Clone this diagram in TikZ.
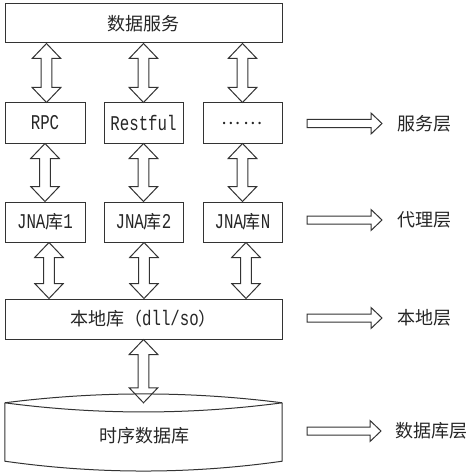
\documentclass[tikz,border=0pt]{standalone}
\usepackage{fontspec}
\setmainfont{Liberation Mono}[FakeStretch=0.75]
\newfontfamily\cjk{Noto Sans CJK SC}
\usetikzlibrary{calc}
\newcommand\zh[1]{{\cjk\fontsize{18}{20}\selectfont #1}}
\newcommand\dblarrowv[2]{%
  \draw[arrowsty] let \p1=#1, \p2=#2 in
  (\x1,\y1) -- (\x1+14.3pt,\y1-15pt) -- (\x1+5.3pt,\y1-15pt) -- (\x1+5.3pt,\y2+15pt)
  -- (\x1+14.3pt,\y2+15pt) -- (\x1,\y2) -- (\x1-14.3pt,\y2+15pt) -- (\x1-5.3pt,\y2+15pt)
  -- (\x1-5.3pt,\y1-15pt) -- (\x1-14.3pt,\y1-15pt) -- cycle;}
\newcommand\hsarrow[2]{%
  \draw[arrowsty] let \p1=#1, \p2=#2 in
  (\x1,\y1+4pt) -- (\x2-11pt,\y1+4pt) -- (\x2-11pt,\y1+10.5pt) -- (\x2,\y1)
  -- (\x2-11pt,\y1-10.5pt) -- (\x2-11pt,\y1-4pt) -- (\x1,\y1-4pt) -- cycle;}
\begin{document}
\begin{tikzpicture}[x=1pt,y=-1pt,
  box/.style={draw=black!80,line width=1pt,inner sep=0pt,text=black!85,
    font=\fontsize{21}{24}\selectfont},
  arrowsty/.style={draw=black!80,line width=1pt,line join=miter},
  lab/.style={anchor=west,inner sep=0pt,text=black!85}]
\useasboundingbox (0,0) rectangle (474,476);
\fill[white] (0,0) rectangle (474,476);
% boxes
\node[box,minimum width=277pt,minimum height=39pt] (top) at (143.5,23.5) {\zh{数据服务}};
\node[box,minimum width=80pt,minimum height=40pt] (rpc) at (45,123) {RPC};
\node[box,minimum width=79pt,minimum height=40pt] (rest) at (143.5,123) {Restful};
\node[box,minimum width=79pt,minimum height=40pt] (dots) at (242.5,123) {\zh{…}\hspace{3pt}\zh{…}};
\node[box,minimum width=80pt,minimum height=40pt] (jna1) at (45,222) {JNA\zh{库}1};
\node[box,minimum width=79pt,minimum height=40pt] (jna2) at (143.5,222) {JNA\zh{库}2};
\node[box,minimum width=79pt,minimum height=40pt] (jnan) at (242.5,222) {JNA\zh{库}N};
\node[box,minimum width=277pt,minimum height=40pt] (local) at (143.5,319) {\zh{本地库（}dll/so\zh{）}};
% database cylinder
\node[inner sep=0pt,minimum width=277pt,minimum height=58pt,text=black!85] (db) at (143.5,432) {};
\node[inner sep=0pt,text=black!85] (dbtext) at (144,436) {\zh{时序数据库}};
\draw[arrowsty] (db.north west) .. controls (97.3,391) and (189.7,391) .. (db.north east);
\draw[arrowsty] (db.north west) .. controls (97.3,415) and (189.7,415) .. (db.north east);
\draw[arrowsty] (db.north west) -- (db.south west) .. controls (97.3,474.3) and (189.7,474.3) .. (db.south east) -- (db.north east);
% vertical double arrows
\dblarrowv{([xshift=1.5pt]top.south -| rpc.south)}{(rpc.north)}
\dblarrowv{(top.south -| rest.north)}{(rest.north)}
\dblarrowv{(top.south -| dots.north)}{(dots.north)}
\dblarrowv{(rpc.south)}{(jna1.north)}
\dblarrowv{(rest.south)}{(jna2.north)}
\dblarrowv{(dots.south)}{(jnan.north)}
\dblarrowv{([xshift=4pt]jna1.south)}{(local.north)}
\dblarrowv{([xshift=0.5pt]jna2.south)}{(local.north)}
\dblarrowv{([xshift=3.5pt]jnan.south)}{(local.north)}
\dblarrowv{(local.south)}{(db.north)}
% right labels
\node[lab] (l1) at (397,123.5) {\zh{服务层}};
\node[lab] (l2) at (397,220) {\zh{代理层}};
\node[lab] (l3) at (397,318) {\zh{本地层}};
\node[lab] (l4) at (395,431) {\zh{数据库层}};
\coordinate (s1) at (307,123.5);
\coordinate (s2) at (307,220);
\coordinate (s3) at (307,318);
\coordinate (s4) at (307,431);
\hsarrow{(s1)}{([xshift=-15pt]l1.west)}
\hsarrow{(s2)}{([xshift=-15pt]l2.west)}
\hsarrow{(s3)}{([xshift=-15pt]l3.west)}
\hsarrow{(s4)}{([xshift=-14pt]l4.west)}
\end{tikzpicture}
\end{document}
